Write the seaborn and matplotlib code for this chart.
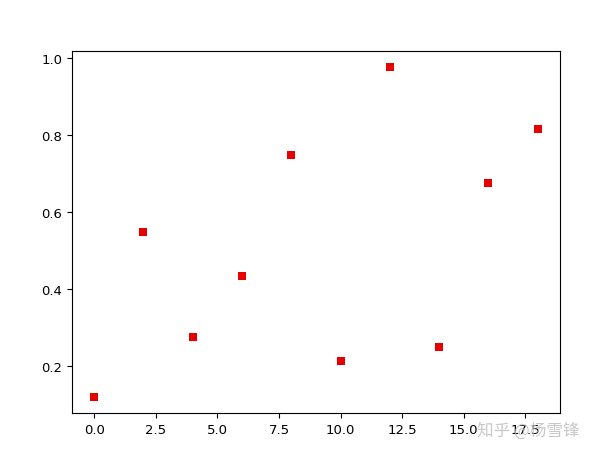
import numpy as np
import matplotlib
matplotlib.use("Agg")
import matplotlib.pyplot as plt
import seaborn as sns

# data
x_vals = [0, 2, 4, 6, 8, 10, 12, 14, 16, 18]
y_vals = [0.12, 0.548, 0.275, 0.433, 0.748, 0.213, 0.975, 0.25, 0.675, 0.815]
y_ticks = [0.2, 0.4, 0.6, 0.8, 1.0]

sns.set_style("ticks")
plt.rcParams['font.family'] = ['DejaVu Sans', 'Noto Sans CJK SC']

fig, ax = plt.subplots(figsize=(6, 4.56), dpi=100)
fig.subplots_adjust(left=0.12, right=0.933, top=0.886, bottom=0.092)

sns.scatterplot(x=x_vals, y=y_vals, marker="s", color="#e60000", s=38,
                edgecolor="#e60000", linewidth=0, ax=ax)

ax.set_xticks([0, 2.5, 5, 7.5, 10, 12.5, 15, 17.5])
ax.set_yticks(y_ticks)
ax.tick_params(labelsize=9.5, direction="out", length=3.5, width=0.8, colors="black")
for sp in ax.spines.values():
    sp.set_visible(True)
    sp.set_color("black")
    sp.set_linewidth(0.8)

# watermark (sits over the last tick labels, as in the original)
fig.text(0.88, 0.055, "知乎 @杨雪锋", ha="center", va="center", fontsize=12,
         color="#bbbbbb", alpha=0.8, family=['Noto Sans CJK SC', 'DejaVu Sans'])

fig.savefig("out.png", dpi=100)
